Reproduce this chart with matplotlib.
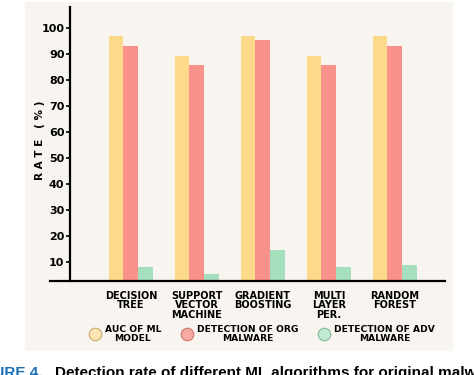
import matplotlib.pyplot as plt
import matplotlib.patches as patches
from matplotlib.lines import Line2D
import numpy as np

# values
algos = ['DECISION\nTREE', 'SUPPORT\nVECTOR\nMACHINE', 'GRADIENT\nBOOSTING',
         'MULTI\nLAYER\nPER.', 'RANDOM\nFOREST']
auc_ml = [96.7, 89.1, 96.7, 89.1, 96.7]
det_org = [93.0, 85.4, 95.1, 85.4, 93.0]
det_adv = [7.7, 5.3, 14.4, 7.7, 8.5]
series_names = ['AUC OF ML\nMODEL', 'DETECTION OF ORG\nMALWARE', 'DETECTION OF ADV\nMALWARE']
bar_cols = ['#fdd98a', '#f9928a', '#a6dfbd']
dot_face = ['#fde6b4', '#f9aaa4', '#c2ead2']
dot_edge = ['#c9a86a', '#c9766e', '#86b899']

fig = plt.figure(figsize=(4.74, 3.75), dpi=100)
fig.patch.set_facecolor('white')

# light panel behind the chart
fig.patches.append(patches.Rectangle((25/474, 25/375), 427/474, 348/375,
                                     transform=fig.transFigure, color='#f8f5f0', zorder=-10))

ax = fig.add_axes([50/474, 94/375, 395/474, (281-6.7)/375])
ax.set_facecolor('none')

x = np.arange(len(algos))
w = 0.227
ax.bar(x - w, auc_ml, w, color=bar_cols[0], bottom=0)
ax.bar(x, det_org, w, color=bar_cols[1])
ax.bar(x + w, det_adv, w, color=bar_cols[2])

ax.set_xlim(-1.227, 4.758)
ax.set_ylim(2.5, 108)

for s in ['top', 'right']:
    ax.spines[s].set_visible(False)
ax.spines['left'].set_position(('axes', 20/395))
ax.spines['left'].set_linewidth(1.6)
ax.spines['bottom'].set_linewidth(1.6)

ax.set_yticks(range(10, 101, 10))
ax.tick_params(axis='y', length=3, width=1.2, labelsize=8, pad=1)
for t in ax.get_yticklabels():
    t.set_fontweight('bold')

ax.set_xticks(x)
ax.set_xticklabels(algos, fontsize=7, fontweight='bold', linespacing=0.95)
ax.tick_params(axis='x', length=0, pad=7)

fig.text(40/474, (375-140)/375, 'R A T E   ( % )', rotation=90, ha='center', va='center',
         fontsize=7.5, fontweight='bold')

handles = [Line2D([], [], marker='o', linestyle='none', markersize=9,
                  markerfacecolor=dot_face[i], markeredgecolor=dot_edge[i], markeredgewidth=0.8)
           for i in range(3)]
leg = fig.legend(handles, series_names, loc='center', bbox_to_anchor=(262/474, (375-334)/375),
                 ncol=3, frameon=False, fontsize=6.6, handletextpad=0.5, columnspacing=2.2,
                 handlelength=1.2)
for t in leg.get_texts():
    t.set_fontweight('bold')
    t.set_multialignment('center')
    t.set_linespacing(0.95)

# caption, cut by the image edge like the source
fig.text(42/474, (375-366)/375, 'FIGURE 4.', color='#1a6fb5', fontsize=11,
         fontweight='bold', va='top', ha='right', family='Liberation Sans')
fig.text(55/474, (375-366)/375, 'Detection rate of different ML algorithms for original malware',
         color='black', fontsize=11, fontweight='bold', va='top', family='Liberation Sans')

fig.savefig('out.png', dpi=100)
